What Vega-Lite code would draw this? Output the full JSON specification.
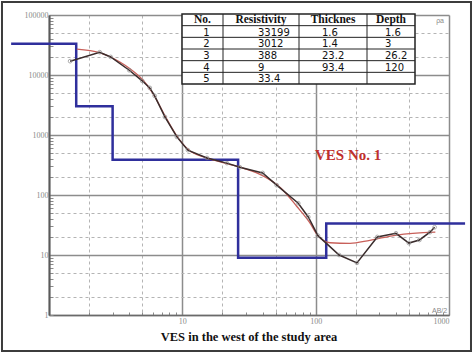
{
  "$schema": "https://vega.github.io/schema/vega-lite/v6.json",
  "width": 400,
  "height": 300,
  "autosize": {"type": "none"},
  "padding": {"left": 49, "top": 15, "right": 25, "bottom": 42},
  "background": "white",
  "config": {"view": {"stroke": null}, "font": "Liberation Serif"},
  "title": {
    "text": "VES in the west of the study area",
    "orient": "bottom",
    "anchor": "middle",
    "font": "Liberation Serif",
    "fontSize": 12.5,
    "fontWeight": "bold",
    "color": "#111111",
    "offset": -21
  },
  "datasets": {
    "model": [
      {"ab2": 0.52, "rho": 33199},
      {"ab2": 1.6, "rho": 3012},
      {"ab2": 3, "rho": 388},
      {"ab2": 26.2, "rho": 9},
      {"ab2": 120, "rho": 33.4},
      {"ab2": 1320, "rho": 33.4}
    ],
    "observed": [
      {"ab2": 1.44, "rho": 17000},
      {"ab2": 2.4, "rho": 24000},
      {"ab2": 2.9, "rho": 20000},
      {"ab2": 4.0, "rho": 12000},
      {"ab2": 5.0, "rho": 8000},
      {"ab2": 5.7, "rho": 6100},
      {"ab2": 6.2, "rho": 4500},
      {"ab2": 7.4, "rho": 2000},
      {"ab2": 9.1, "rho": 930},
      {"ab2": 11, "rho": 560},
      {"ab2": 15.3, "rho": 415},
      {"ab2": 21.6, "rho": 340},
      {"ab2": 27, "rho": 290},
      {"ab2": 40, "rho": 233},
      {"ab2": 51, "rho": 146},
      {"ab2": 74, "rho": 73},
      {"ab2": 88, "rho": 43},
      {"ab2": 104, "rho": 21},
      {"ab2": 150, "rho": 10},
      {"ab2": 204, "rho": 7.4},
      {"ab2": 290, "rho": 20},
      {"ab2": 400, "rho": 23},
      {"ab2": 500, "rho": 15.8},
      {"ab2": 600, "rho": 17.8},
      {"ab2": 720, "rho": 24},
      {"ab2": 780, "rho": 29}
    ],
    "fitted": [
      {"ab2": 1.62, "rho": 27000},
      {"ab2": 2.4, "rho": 23500},
      {"ab2": 3.4, "rho": 16500},
      {"ab2": 4.0, "rho": 13000},
      {"ab2": 5.0, "rho": 8500},
      {"ab2": 6.0, "rho": 5000},
      {"ab2": 7.4, "rho": 2100},
      {"ab2": 9.0, "rho": 1000},
      {"ab2": 11, "rho": 580},
      {"ab2": 15, "rho": 420},
      {"ab2": 22, "rho": 330},
      {"ab2": 30, "rho": 270},
      {"ab2": 40, "rho": 210},
      {"ab2": 55, "rho": 130},
      {"ab2": 72, "rho": 65},
      {"ab2": 90, "rho": 35},
      {"ab2": 104, "rho": 21},
      {"ab2": 128, "rho": 16},
      {"ab2": 181, "rho": 15.6},
      {"ab2": 255, "rho": 17.6},
      {"ab2": 405, "rho": 21.5},
      {"ab2": 790, "rho": 24}
    ],
    "labels": [
      {"ab2": 175, "rho": 464, "t": "VES No. 1", "kind": "name"},
      {"ab2": 850, "rho": 1.17, "t": "AB/2", "kind": "axis"},
      {"ab2": 857, "rho": 79400, "t": "ρa", "kind": "axis"}
    ],
    "cells": [
      {"r": 0, "c": 0, "t": "No."},
      {"r": 0, "c": 1, "t": "Resistivity"},
      {"r": 0, "c": 2, "t": "Thicknes"},
      {"r": 0, "c": 3, "t": "Depth"},
      {"r": 1, "c": 0, "t": "1"},
      {"r": 1, "c": 1, "t": "33199"},
      {"r": 1, "c": 2, "t": "1.6"},
      {"r": 1, "c": 3, "t": "1.6"},
      {"r": 2, "c": 0, "t": "2"},
      {"r": 2, "c": 1, "t": "3012"},
      {"r": 2, "c": 2, "t": "1.4"},
      {"r": 2, "c": 3, "t": "3"},
      {"r": 3, "c": 0, "t": "3"},
      {"r": 3, "c": 1, "t": "388"},
      {"r": 3, "c": 2, "t": "23.2"},
      {"r": 3, "c": 3, "t": "26.2"},
      {"r": 4, "c": 0, "t": "4"},
      {"r": 4, "c": 1, "t": "9"},
      {"r": 4, "c": 2, "t": "93.4"},
      {"r": 4, "c": 3, "t": "120"},
      {"r": 5, "c": 0, "t": "5"},
      {"r": 5, "c": 1, "t": "33.4"}
    ],
    "colLines": [{"b": 0.5}, {"b": 1.5}, {"b": 2.5}],
    "rowLines": [{"b": 0.5}, {"b": 1.5}, {"b": 2.5}, {"b": 3.5}, {"b": 4.5}]
  },
  "layer": [
    {
      "layer": [
        {
          "data": {"name": "model"},
          "mark": {"type": "line", "interpolate": "step-after", "color": "#2f2f9c", "strokeWidth": 2.5},
          "encoding": {
            "x": {
              "field": "ab2",
              "type": "quantitative",
              "scale": {"type": "log", "domain": [1, 1000], "nice": false},
              "axis": {
                "title": null,
                "values": [1, 2, 3, 4, 5, 6, 7, 8, 9, 10, 20, 30, 40, 50, 60, 70, 80, 90, 100, 200, 300, 400, 500, 600, 700, 800, 900, 1000],
                "format": "d",
                "labelExpr": "(datum.value == 10 || datum.value == 100 || datum.value == 1000) ? datum.label : ''",
                "labelOverlap": false,
                "labelFlush": true,
                "labelFontSize": 8,
                "labelColor": "#8a8a8a",
                "labelPadding": 5,
                "domainColor": "#6a6a6a",
                "domainWidth": 1.5,
                "tickSize": -3,
                "tickColor": "#8a8a8a",
                "grid": true,
                "gridColor": {"condition": {"test": "datum.value == 1 || datum.value == 10 || datum.value == 100 || datum.value == 1000", "value": "#8c8c8c"}, "value": "#b4b4b4"},
                "gridWidth": {"condition": {"test": "datum.value == 1 || datum.value == 10 || datum.value == 100 || datum.value == 1000", "value": 1.5}, "value": 1},
                "gridDash": {"condition": {"test": "datum.value == 1 || datum.value == 10 || datum.value == 100 || datum.value == 1000", "value": []}, "value": [3, 3]},
                "gridOpacity": {"condition": {"test": "indexof([1, 2, 5, 10, 20, 50, 100, 200, 500, 1000], datum.value) >= 0", "value": 1}, "value": 0}
              }
            },
            "y": {
              "field": "rho",
              "type": "quantitative",
              "scale": {"type": "log", "domain": [1, 100000], "nice": false},
              "axis": {
                "title": null,
                "values": [1, 2, 3, 4, 5, 6, 7, 8, 9, 10, 20, 30, 40, 50, 60, 70, 80, 90, 100, 200, 300, 400, 500, 600, 700, 800, 900, 1000, 2000, 3000, 4000, 5000, 6000, 7000, 8000, 9000, 10000, 20000, 30000, 40000, 50000, 60000, 70000, 80000, 90000, 100000],
                "format": "d",
                "labelExpr": "indexof([1, 10, 100, 1000, 10000, 100000], datum.value) >= 0 ? datum.label : ''",
                "labelOverlap": false,
                "labelFontSize": 8,
                "labelColor": "#8a8a8a",
                "labelPadding": 5,
                "domainColor": "#5a5a5a",
                "domainWidth": 2,
                "tickSize": -4,
                "tickColor": "#8a8a8a",
                "grid": true,
                "gridColor": {"condition": {"test": "indexof([1, 10, 100, 1000, 10000, 100000], datum.value) >= 0", "value": "#8c8c8c"}, "value": "#b4b4b4"},
                "gridWidth": {"condition": {"test": "indexof([1, 10, 100, 1000, 10000, 100000], datum.value) >= 0", "value": 1.5}, "value": 1},
                "gridDash": {"condition": {"test": "indexof([1, 10, 100, 1000, 10000, 100000], datum.value) >= 0", "value": []}, "value": [3, 3]},
                "gridOpacity": {"condition": {"test": "indexof([1, 2, 5, 10, 20, 50, 100, 200, 500, 1000, 2000, 5000, 10000, 20000, 50000, 100000], datum.value) >= 0", "value": 1}, "value": 0}
              }
            }
          }
        },
        {
          "data": {"name": "fitted"},
          "mark": {"type": "line", "interpolate": "monotone", "color": "#c8605a", "strokeWidth": 1.3},
          "encoding": {
            "x": {"field": "ab2", "type": "quantitative"},
            "y": {"field": "rho", "type": "quantitative"}
          }
        },
        {
          "data": {"name": "observed"},
          "mark": {"type": "line", "color": "#3a2c2c", "strokeWidth": 1.5},
          "encoding": {
            "x": {"field": "ab2", "type": "quantitative"},
            "y": {"field": "rho", "type": "quantitative"}
          }
        },
        {
          "data": {"name": "observed"},
          "mark": {"type": "point", "shape": "circle", "size": 14, "filled": false, "color": "#8a8a8a", "strokeWidth": 1},
          "encoding": {
            "x": {"field": "ab2", "type": "quantitative"},
            "y": {"field": "rho", "type": "quantitative"}
          }
        },
        {
          "data": {"name": "labels"},
          "transform": [{"filter": "datum.kind == 'name'"}],
          "mark": {"type": "text", "font": "Liberation Serif", "fontSize": 15, "fontWeight": "bold", "color": "#c0302c", "align": "center", "baseline": "middle"},
          "encoding": {
            "x": {"field": "ab2", "type": "quantitative"},
            "y": {"field": "rho", "type": "quantitative"},
            "text": {"field": "t"}
          }
        },
        {
          "data": {"name": "labels"},
          "transform": [{"filter": "datum.kind == 'axis'"}],
          "mark": {"type": "text", "font": "Liberation Sans", "fontSize": 7, "color": "#8a8a8a", "align": "center", "baseline": "middle"},
          "encoding": {
            "x": {"field": "ab2", "type": "quantitative"},
            "y": {"field": "rho", "type": "quantitative"},
            "text": {"field": "t"}
          }
        },
        {
          "data": {"values": [{}]},
          "mark": {"type": "rect", "fill": null, "stroke": "#3c3c3c", "strokeWidth": 2},
          "encoding": {
            "x": {"datum": 0.444, "type": "quantitative"},
            "x2": {"datum": 1462},
            "y": {"datum": 0.251, "type": "quantitative"},
            "y2": {"datum": 164700}
          }
        }
      ]
    },
    {
      "layer": [
        {
          "data": {"values": [{}]},
          "mark": {"type": "rect", "fill": "white", "stroke": "#222222", "strokeWidth": 1.5},
          "encoding": {
            "x": {"datum": -0.5, "type": "quantitative", "scale": {"domain": [-0.5, 0.5, 1.5, 2.5, 3.5], "range": [133, 174, 250, 318, 366]}, "axis": null},
            "x2": {"datum": 3.5},
            "y": {"datum": -0.5, "type": "quantitative", "scale": {"domain": [-0.5, 5.5], "range": [-1, 69]}, "axis": null},
            "y2": {"datum": 5.5}
          }
        },
        {
          "data": {"name": "colLines"},
          "mark": {"type": "rule", "color": "#222222", "strokeWidth": 1},
          "encoding": {
            "x": {"field": "b", "type": "quantitative"},
            "y": {"datum": -0.5, "type": "quantitative"},
            "y2": {"datum": 5.5}
          }
        },
        {
          "data": {"name": "rowLines"},
          "mark": {"type": "rule", "color": "#222222", "strokeWidth": 1},
          "encoding": {
            "y": {"field": "b", "type": "quantitative"},
            "x": {"datum": -0.5, "type": "quantitative"},
            "x2": {"datum": 3.5}
          }
        },
        {
          "data": {"name": "cells"},
          "transform": [{"filter": "datum.r == 0"}],
          "mark": {"type": "text", "font": "Liberation Serif", "fontSize": 11.5, "fontWeight": "bold", "color": "#111111", "align": "center", "baseline": "middle", "dy": 0},
          "encoding": {
            "x": {"field": "c", "type": "quantitative"},
            "y": {"field": "r", "type": "quantitative"},
            "text": {"field": "t"}
          }
        },
        {
          "data": {"name": "cells"},
          "transform": [{"filter": "datum.r > 0 && datum.c == 0"}],
          "mark": {"type": "text", "font": "DejaVu Sans", "fontSize": 10, "color": "#111111", "align": "center", "baseline": "middle", "dx": 4, "dy": 1},
          "encoding": {
            "x": {"field": "c", "type": "quantitative"},
            "y": {"field": "r", "type": "quantitative"},
            "text": {"field": "t"}
          }
        },
        {
          "data": {"name": "cells"},
          "transform": [{"filter": "datum.r > 0 && datum.c == 1"}],
          "mark": {"type": "text", "font": "DejaVu Sans", "fontSize": 10, "color": "#111111", "align": "left", "baseline": "middle", "dx": -3, "dy": 1},
          "encoding": {
            "x": {"field": "c", "type": "quantitative"},
            "y": {"field": "r", "type": "quantitative"},
            "text": {"field": "t"}
          }
        },
        {
          "data": {"name": "cells"},
          "transform": [{"filter": "datum.r > 0 && datum.c == 2"}],
          "mark": {"type": "text", "font": "DejaVu Sans", "fontSize": 10, "color": "#111111", "align": "left", "baseline": "middle", "dx": -11, "dy": 1},
          "encoding": {
            "x": {"field": "c", "type": "quantitative"},
            "y": {"field": "r", "type": "quantitative"},
            "text": {"field": "t"}
          }
        },
        {
          "data": {"name": "cells"},
          "transform": [{"filter": "datum.r > 0 && datum.c == 3"}],
          "mark": {"type": "text", "font": "DejaVu Sans", "fontSize": 10, "color": "#111111", "align": "left", "baseline": "middle", "dx": -6, "dy": 1},
          "encoding": {
            "x": {"field": "c", "type": "quantitative"},
            "y": {"field": "r", "type": "quantitative"},
            "text": {"field": "t"}
          }
        }
      ]
    }
  ],
  "resolve": {"scale": {"x": "independent", "y": "independent"}, "axis": {"x": "independent", "y": "independent"}}
}
